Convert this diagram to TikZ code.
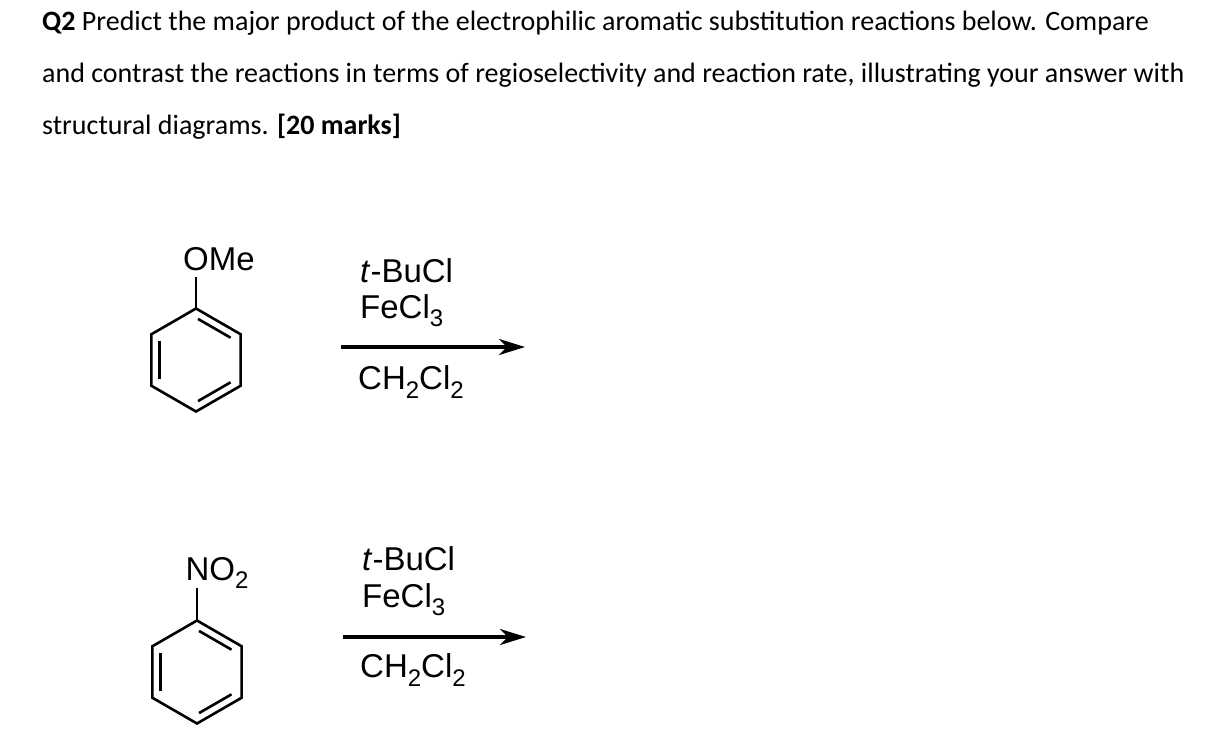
\documentclass[tikz,border=0pt]{standalone}
\usepackage{fontspec}
\setmainfont{Carlito}
\newfontfamily\arialf{Liberation Sans}
\usetikzlibrary{arrows.meta,calc}
\tikzset{
  bond/.style={line width=2.6pt},
  hdr/.style={anchor=base west, inner sep=0pt, font=\fontsize{28}{32}\selectfont},
  chem/.style={inner sep=0pt, font=\arialf\fontsize{33}{38}\selectfont},
  rxarrow/.style={line width=3.4pt, -{Stealth[length=26pt,width=16pt,inset=8pt]}}
}
\newcommand{\sbs}[1]{\raisebox{-0.25em}{\fontsize{24}{28}\selectfont #1}}
\newcommand{\benz}[3]{% name, cx, cy
  \coordinate (#1t) at (#2,#3-51.5);
  \coordinate (#1ur) at (#2+44.6,#3-25.75);
  \coordinate (#1lr) at (#2+44.6,#3+25.75);
  \coordinate (#1b) at (#2,#3+51.5);
  \coordinate (#1ll) at (#2-44.6,#3+25.75);
  \coordinate (#1ul) at (#2-44.6,#3-25.75);
  \draw[bond, line join=miter] (#1t)--(#1ur)--(#1lr)--(#1b)--(#1ll)--(#1ul)--cycle;
  \draw[bond, shorten <=7pt, shorten >=7pt] ($(#1t)!8pt!-90:(#1ur)$) -- ($(#1ur)!8pt!90:(#1t)$);
  \draw[bond, shorten <=7pt, shorten >=7pt] ($(#1lr)!8pt!-90:(#1b)$) -- ($(#1b)!8pt!90:(#1lr)$);
  \draw[bond, shorten <=7pt, shorten >=7pt] ($(#1ll)!8pt!-90:(#1ul)$) -- ($(#1ul)!8pt!90:(#1ll)$);
}
\begin{document}
\begin{tikzpicture}[x=1pt,y=-1pt]
\useasboundingbox (0,0) rectangle (1218,750);
\node[hdr] (l1) at (42,30) {\textbf{Q2} Predict the major product of the electrophilic aromatic substitution reactions below. Compare};
\node[hdr] (l2) at (42,82) {and contrast the reactions in terms of regioselectivity and reaction rate, illustrating your answer with};
\node[hdr] (l3) at (42,134) {structural diagrams. \textbf{[20 marks]}};

\benz{a}{196}{360}
\node[chem] (ome) at (219,259) {OMe};
\draw[bond] (at) -- (196,277);
\coordinate (a1) at (341,347);
\coordinate (a2) at (525,347);
\draw[rxarrow] (a1) -- (a2);
\node[chem, anchor=west] (r1) at (360,271) {\textit{t}-BuCl};
\node[chem, anchor=west] (r2) at (360,311) {FeCl\sbs{3}};
\node[chem, anchor=west] (r3) at (358,382) {CH\sbs{2}Cl\sbs{2}};

\benz{b}{197}{672}
\node[chem] (no2) at (217,573) {NO\sbs{2}};
\draw[bond] (bt) -- (197,588);
\coordinate (b1) at (343,637);
\coordinate (b2) at (526,637);
\draw[rxarrow] (b1) -- (b2);
\node[chem, anchor=west] (s1) at (362,559) {\textit{t}-BuCl};
\node[chem, anchor=west] (s2) at (362,600) {FeCl\sbs{3}};
\node[chem, anchor=west] (s3) at (360,670) {CH\sbs{2}Cl\sbs{2}};
\end{tikzpicture}
\end{document}
